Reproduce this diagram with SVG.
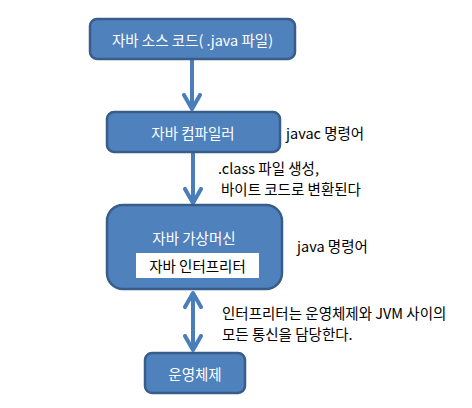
<svg xmlns="http://www.w3.org/2000/svg" width="472" height="408" viewBox="0 0 472 408">
<defs>
<style>
.box{fill:#4f81bd;stroke:#385d8a;stroke-width:2.5}
.wt{fill:#ffffff;font-family:"Noto Sans CJK KR","Liberation Sans",sans-serif;font-size:14.5px;text-anchor:middle;dominant-baseline:central}
.bt{fill:#000000;font-family:"Noto Sans CJK KR","Liberation Sans",sans-serif;font-size:14.5px;dominant-baseline:central}
.edge{stroke:#4a7ebb;stroke-width:4;fill:none}
</style>
<marker id="ah" viewBox="0 0 10 10" refX="8" refY="5" markerWidth="5" markerHeight="5" orient="auto-start-reverse" markerUnits="strokeWidth">
<path d="M1,1 L8,5 L1,9" fill="none" stroke="#4a7ebb" stroke-width="2" stroke-linecap="round" stroke-linejoin="round"/>
</marker>
</defs>
<rect width="472" height="408" fill="#ffffff"/>
<g id="connectors">
<line class="edge" x1="192" y1="60" x2="192" y2="109" marker-end="url(#ah)"/>
<line class="edge" x1="193" y1="153" x2="193" y2="203" marker-end="url(#ah)"/>
<line class="edge" x1="193" y1="293" x2="193" y2="350" marker-start="url(#ah)" marker-end="url(#ah)"/>
</g>
<g id="source">
<rect class="box" x="90" y="19" width="205" height="40" rx="7"/>
<text class="wt" x="192.5" y="39">자바 소스 코드( .java 파일)</text>
</g>
<g id="compiler">
<rect class="box" x="107" y="112" width="173" height="40" rx="7"/>
<text class="wt" x="193" y="132">자바 컴파일러</text>
</g>
<g id="javac-label">
<text class="bt" x="286" y="132">javac 명령어</text>
</g>
<g id="class-label">
<text class="bt" x="218" y="167">.class 파일 생성,</text>
<text class="bt" x="221" y="188.5">바이트 코드로 변환된다</text>
</g>
<g id="jvm">
<rect class="box" x="107" y="205" width="175" height="84" rx="16"/>
<text class="wt" x="194" y="237">자바 가상머신</text>
<rect x="136" y="253" width="123" height="25" fill="#ffffff"/>
<text class="wt" x="197.5" y="265.5" style="fill:#000000">자바 인터프리터</text>
</g>
<g id="java-label">
<text class="bt" x="297" y="245">java 명령어</text>
</g>
<g id="interp-label">
<text class="bt" x="222" y="312">인터프리터는 운영체제와 JVM 사이의</text>
<text class="bt" x="222" y="333.5">모든 통신을 담당한다.</text>
</g>
<g id="os">
<rect class="box" x="145" y="353" width="100" height="40" rx="7"/>
<text class="wt" x="195" y="373">운영체제</text>
</g>
</svg>
